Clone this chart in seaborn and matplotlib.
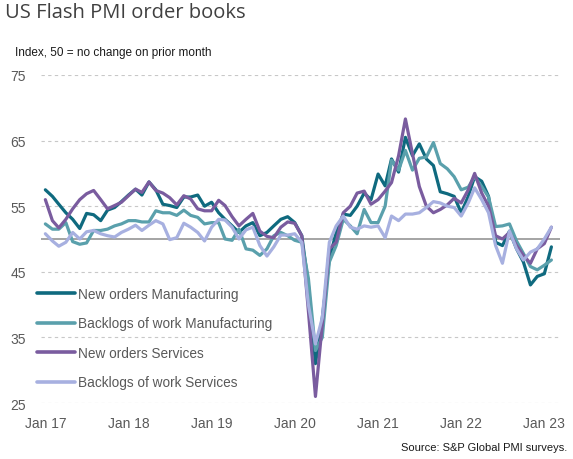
import numpy as np
import pandas as pd
import matplotlib
matplotlib.use('Agg')
import matplotlib.pyplot as plt
import seaborn as sns

months = pd.date_range('2017-01-01', periods=74, freq='MS')

new_orders_mfg = [
    57.5, 56.5, 55.3, 54.0, 53.0, 51.6, 53.9, 53.7, 52.8, 54.4, 54.8, 55.7,
    56.7, 57.6, 56.7, 58.7, 57.5, 55.3, 55.1, 54.8, 56.4, 56.4, 56.7, 55.0,
    55.6, 54.0, 53.0, 52.0, 51.0, 52.0, 52.5, 50.5, 51.0, 52.0, 53.0, 53.4,
    52.5, 50.5, 43.0, 31.0, 38.0, 47.0, 51.0, 53.8, 53.6, 55.0, 57.0, 56.0,
    59.9, 58.1, 62.2, 60.2, 65.5, 62.7, 64.5, 62.2, 61.2, 57.2, 56.9, 56.5,
    54.0, 56.5, 59.5, 58.8, 56.5, 49.5, 49.0, 51.2, 48.5, 46.5, 43.0, 44.3,
    44.7, 48.8,
]
backlogs_mfg = [
    52.3, 51.5, 51.5, 52.5, 49.6, 49.2, 49.4, 51.3, 51.3, 51.5, 52.0, 52.3,
    52.8, 52.8, 52.6, 52.6, 54.3, 54.0, 54.0, 53.6, 54.4, 53.6, 53.3, 52.3,
    52.5, 52.5, 50.0, 49.8, 51.5, 48.5, 48.3, 47.5, 48.5, 50.5, 51.0, 50.5,
    49.8, 49.5, 44.0, 33.0, 35.0, 46.5, 49.0, 53.0, 52.0, 50.8, 54.5, 52.5,
    52.5, 55.0, 62.0, 60.5, 63.5, 60.5, 62.3, 62.5, 64.7, 61.5, 60.7, 59.5,
    57.5, 57.9, 59.5, 58.0, 56.4, 51.9, 52.0, 52.3, 49.7, 47.8, 45.8, 45.3,
    46.0, 46.8,
]
new_orders_svc = [
    56.0, 52.8, 51.7, 53.0, 54.6, 56.0, 56.9, 57.4, 56.0, 54.6, 55.1, 55.6,
    56.6, 57.6, 57.1, 58.7, 57.4, 57.0, 56.3, 55.2, 56.6, 56.1, 54.6, 54.3,
    54.3, 55.9, 55.1, 53.4, 52.0, 53.0, 53.9, 51.2, 50.4, 50.2, 51.8, 52.6,
    52.4, 50.5, 39.0, 26.0, 37.0, 48.5, 49.5, 54.0, 55.0, 57.0, 57.3, 55.3,
    56.0, 57.3, 58.6, 62.7, 68.3, 63.0, 58.0, 55.0, 54.0, 54.5, 55.2, 56.2,
    55.5, 57.5, 60.0, 57.0, 55.0, 50.5, 50.0, 51.0, 49.0, 47.5, 46.3, 48.5,
    49.3, 51.8,
]
backlogs_svc = [
    50.8, 49.7, 48.9, 49.5, 51.0, 50.0, 51.1, 51.3, 50.8, 50.5, 50.3, 51.0,
    51.5, 52.1, 51.3, 52.1, 52.8, 52.3, 49.9, 50.2, 52.4, 51.8, 51.0, 49.7,
    51.8, 53.0, 52.9, 51.8, 50.0, 51.4, 51.8, 49.0, 47.4, 48.8, 50.6, 50.6,
    50.8, 49.5, 40.0, 34.0, 38.0, 49.5, 52.0, 53.5, 51.8, 51.5, 52.0, 51.8,
    52.0, 50.2, 53.5, 52.8, 53.8, 53.8, 54.0, 54.8, 55.7, 55.5, 55.0, 54.8,
    53.5, 55.5, 57.8, 56.0, 54.0, 49.0, 46.3, 51.2, 48.5, 46.8, 48.0, 48.5,
    50.0, 51.8,
]

series_names = [
    'New orders Manufacturing',
    'Backlogs of work Manufacturing',
    'New orders Services',
    'Backlogs of work Services',
]
series_colors = ['#0f6a7f', '#5aa0ac', '#7a5c9f', '#a7b0e0']
y_ticks = [25, 35, 45, 55, 65, 75]
x_tick_years = [2017, 2018, 2019, 2020, 2021, 2022, 2023]

df = pd.DataFrame({
    'month': np.tile(months, 4),
    'value': new_orders_mfg + backlogs_mfg + new_orders_svc + backlogs_svc,
    'series': np.repeat(series_names, len(months)),
})

sns.set_theme(style='white')
plt.rcParams['font.family'] = ['Liberation Sans', 'DejaVu Sans']

fig = plt.figure(figsize=(5.73, 4.6), dpi=100)
ax = fig.add_axes([0.0716, 0.1217, 0.9054, 0.7131])

for y in y_ticks:
    ax.axhline(y, color='#c8c8c8', lw=0.8, ls=(0, (3, 3)), zorder=0)
ax.axhline(50, color='#8c8c8c', lw=1.1, zorder=1)

sns.lineplot(data=df, x='month', y='value', hue='series', hue_order=series_names,
             palette=series_colors, linewidth=2.3, ax=ax, legend=True, zorder=3)

ax.set_ylim(25, 75)
ax.set_xlim(pd.Timestamp('2016-12-13'), pd.Timestamp('2023-03-10'))
ax.set_yticks(y_ticks)
ax.set_xticks([pd.Timestamp(f'{yr}-01-01') for yr in x_tick_years])
ax.set_xticklabels([f'Jan {str(yr)[2:]}' for yr in x_tick_years])
ax.set_xlabel('')
ax.set_ylabel('')
ax.tick_params(axis='both', length=0, labelsize=10, colors='#595959')
ax.tick_params(axis='y', pad=11)
ax.tick_params(axis='x', pad=9)
for s in ax.spines.values():
    s.set_visible(False)

leg = ax.legend(loc='upper left', bbox_to_anchor=(-0.008, 0.354), frameon=False,
                fontsize=9.8, handlelength=2.8, handletextpad=0.25,
                labelspacing=1.14, borderaxespad=0, borderpad=0)
for t in leg.get_texts():
    t.set_color('#595959')
for h in leg.get_lines():
    h.set_linewidth(2.6)

fig.text(0.009, 0.993, 'US Flash PMI order books', fontsize=14.5, color='#404040',
         family=['Open Sans', 'DejaVu Sans'], va='top', ha='left')
fig.text(0.026, 0.884, 'Index, 50 = no change on prior month', fontsize=8.5,
         color='#1a1a1a', va='center', ha='left')
fig.text(0.99, 0.026, 'Source: S&P Global PMI surveys.', fontsize=8,
         color='#1a1a1a', va='center', ha='right')

fig.savefig('out.png', dpi=100)
